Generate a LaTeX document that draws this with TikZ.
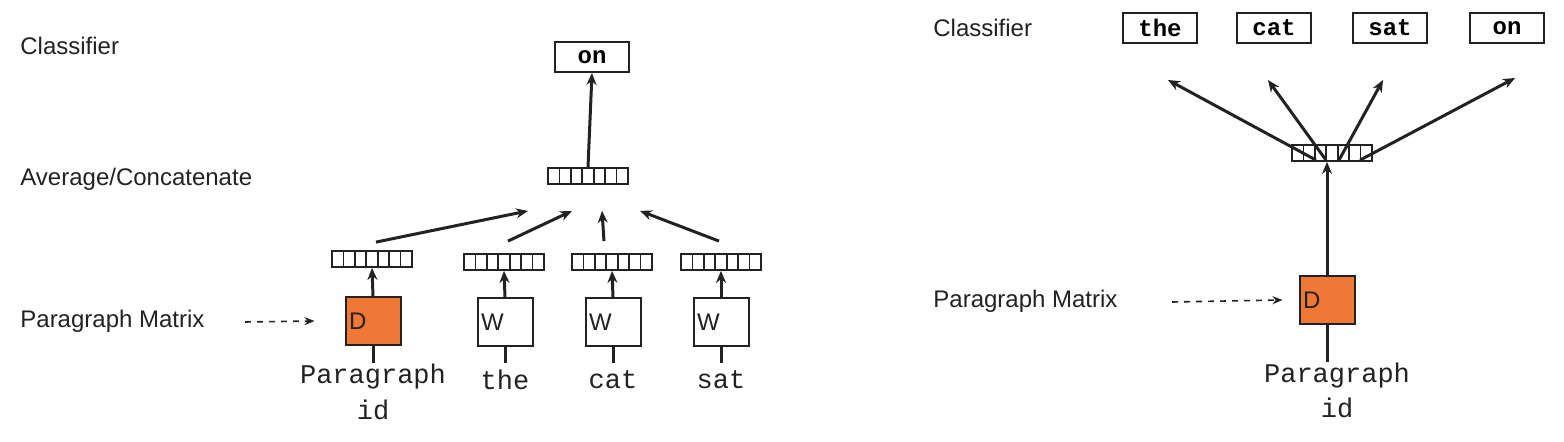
\documentclass[tikz,border=0pt]{standalone}
\usepackage{fontspec}
\setmainfont{Liberation Sans}
\setmonofont{Liberation Mono}
\usetikzlibrary{arrows.meta}
\definecolor{dorange}{HTML}{F07836}
\definecolor{ink}{HTML}{222222}
\tikzset{
 x=0.5pt,y=-0.5pt,
 lbl/.style={anchor=west,font=\fontsize{12}{14}\selectfont,text=ink,inner sep=0},
 word/.style={font=\ttfamily\fontsize{13.5}{16}\selectfont,text=ink,inner sep=0},
 cls/.style={draw=ink,line width=1pt,minimum width=37pt,minimum height=15pt,inner sep=0,font=\ttfamily\bfseries\fontsize{12}{14}\selectfont},
 vec/.style={draw=ink,line width=0.9pt,minimum width=40pt,minimum height=8pt,inner sep=0,
   path picture={\foreach \i in {1,...,6}{\draw[ink,line width=0.9pt] ([xshift=\i*40pt/7]path picture bounding box.south west) -- ([xshift=\i*40pt/7]path picture bounding box.north west);}}},
 mat/.style={draw=ink,line width=1pt,minimum width=27.5pt,minimum height=24pt,inner sep=1.5pt,font=\fontsize{12}{14}\selectfont,text=ink},
 arr/.style={-{Stealth[length=6pt,width=5pt]},line width=1.5pt,draw=ink},
 stem/.style={line width=1.5pt,draw=ink},
 darr/.style={-{Stealth[length=5pt,width=4pt]},dashed,line width=0.8pt,draw=ink},
}
\begin{document}
\begin{tikzpicture}
\useasboundingbox (0,0) rectangle (1564,442);
% left
\node[lbl] (lc) at (20,46) {Classifier};
\node[lbl] (la) at (20,179) {Average/Concatenate};
\node[lbl] (lp) at (20,321) {Paragraph Matrix};
\node[cls] (on1) at (592,57) {on};
\node[vec] (avg) at (588,176) {};
\node[vec] (v1) at (372,259) {};
\node[vec] (v2) at (504,262) {};
\node[vec] (v3) at (612,262) {};
\node[vec] (v4) at (721,262) {};
\node[mat,fill=dorange,text width=24pt] (d1) at (373,321) {D};
\node[mat,text width=24pt] (w1) at (505,322) {W};
\node[mat,text width=24pt] (w2) at (613,322) {W};
\node[mat,text width=24pt] (w3) at (721,322) {W};
\node[word] (p1) at (373,377) {Paragraph};
\node[word] (i1) at (373,410) {id};
\node[word] (t1) at (505,380) {the};
\node[word] (t2) at (613,380) {cat};
\node[word] (t3) at (721,380) {sat};
\coordinate (b1) at (373,363); \coordinate (b2) at (505,363);
\coordinate (b3) at (613,363); \coordinate (b4) at (721,363);
\draw[stem] (b1) -- (d1.south); \draw[stem] (b2) -- (w1.south);
\draw[stem] (b3) -- (w2.south); \draw[stem] (b4) -- (w3.south);
\draw[arr] (d1.north) -- (v1.south);
\draw[arr] (w1.north) -- (v2.south);
\draw[arr] (w2.north) -- (v3.south);
\draw[arr] (w3.north) -- (v4.south);
\draw[arr] ([xshift=2pt,yshift=4pt]v1.north) -- ([xshift=-30pt,yshift=-13pt]avg.south);
\draw[arr] ([xshift=2pt,yshift=6pt]v2.north) -- ([xshift=-8pt,yshift=-13pt]avg.south);
\draw[arr] ([xshift=-4pt,yshift=6pt]v3.north) -- ([xshift=7pt,yshift=-13pt]avg.south);
\draw[arr] ([xshift=-1pt,yshift=6pt]v4.north) -- ([xshift=26pt,yshift=-13pt]avg.south);
\draw[arr] (avg.north) -- (on1.south);
\coordinate (ds1) at (245,322);
\draw[darr] (ds1) -- ([xshift=-15pt]d1.west);
% right
\node[lbl] (rc) at (933,28) {Classifier};
\node[lbl] (rp) at (933,301) {Paragraph Matrix};
\node[cls] (c1) at (1160,28) {the};
\node[cls] (c2) at (1274,28) {cat};
\node[cls] (c3) at (1390,28) {sat};
\node[cls] (c4) at (1507,28) {on};
\node[vec] (rv) at (1332,153) {};
\node[mat,fill=dorange,text width=24pt] (d2) at (1327,300) {D};
\node[word] (p2) at (1337,376) {Paragraph};
\node[word] (i2) at (1337,408) {id};
\coordinate (b5) at (1327,362);
\draw[stem] (b5) -- (d2.south);
\draw[arr] (d2.north) -- ([xshift=-2.5pt]rv.south);
\draw[arr] ([xshift=-8pt,yshift=-8pt]rv.north) -- ([xshift=4pt,yshift=-18pt]c1.south);
\draw[arr] ([xshift=-3pt,yshift=-8pt]rv.north) -- ([xshift=-3pt,yshift=-18pt]c2.south);
\draw[arr] ([xshift=3.5pt,yshift=-8pt]rv.north) -- ([xshift=-3.5pt,yshift=-18pt]c3.south);
\draw[arr] ([xshift=14pt,yshift=-8pt]rv.north) -- ([xshift=4pt,yshift=-17pt]c4.south);
\coordinate (ds2) at (1172,302);
\draw[darr] (ds2) -- ([xshift=-8pt]d2.west);
\end{tikzpicture}
\end{document}
